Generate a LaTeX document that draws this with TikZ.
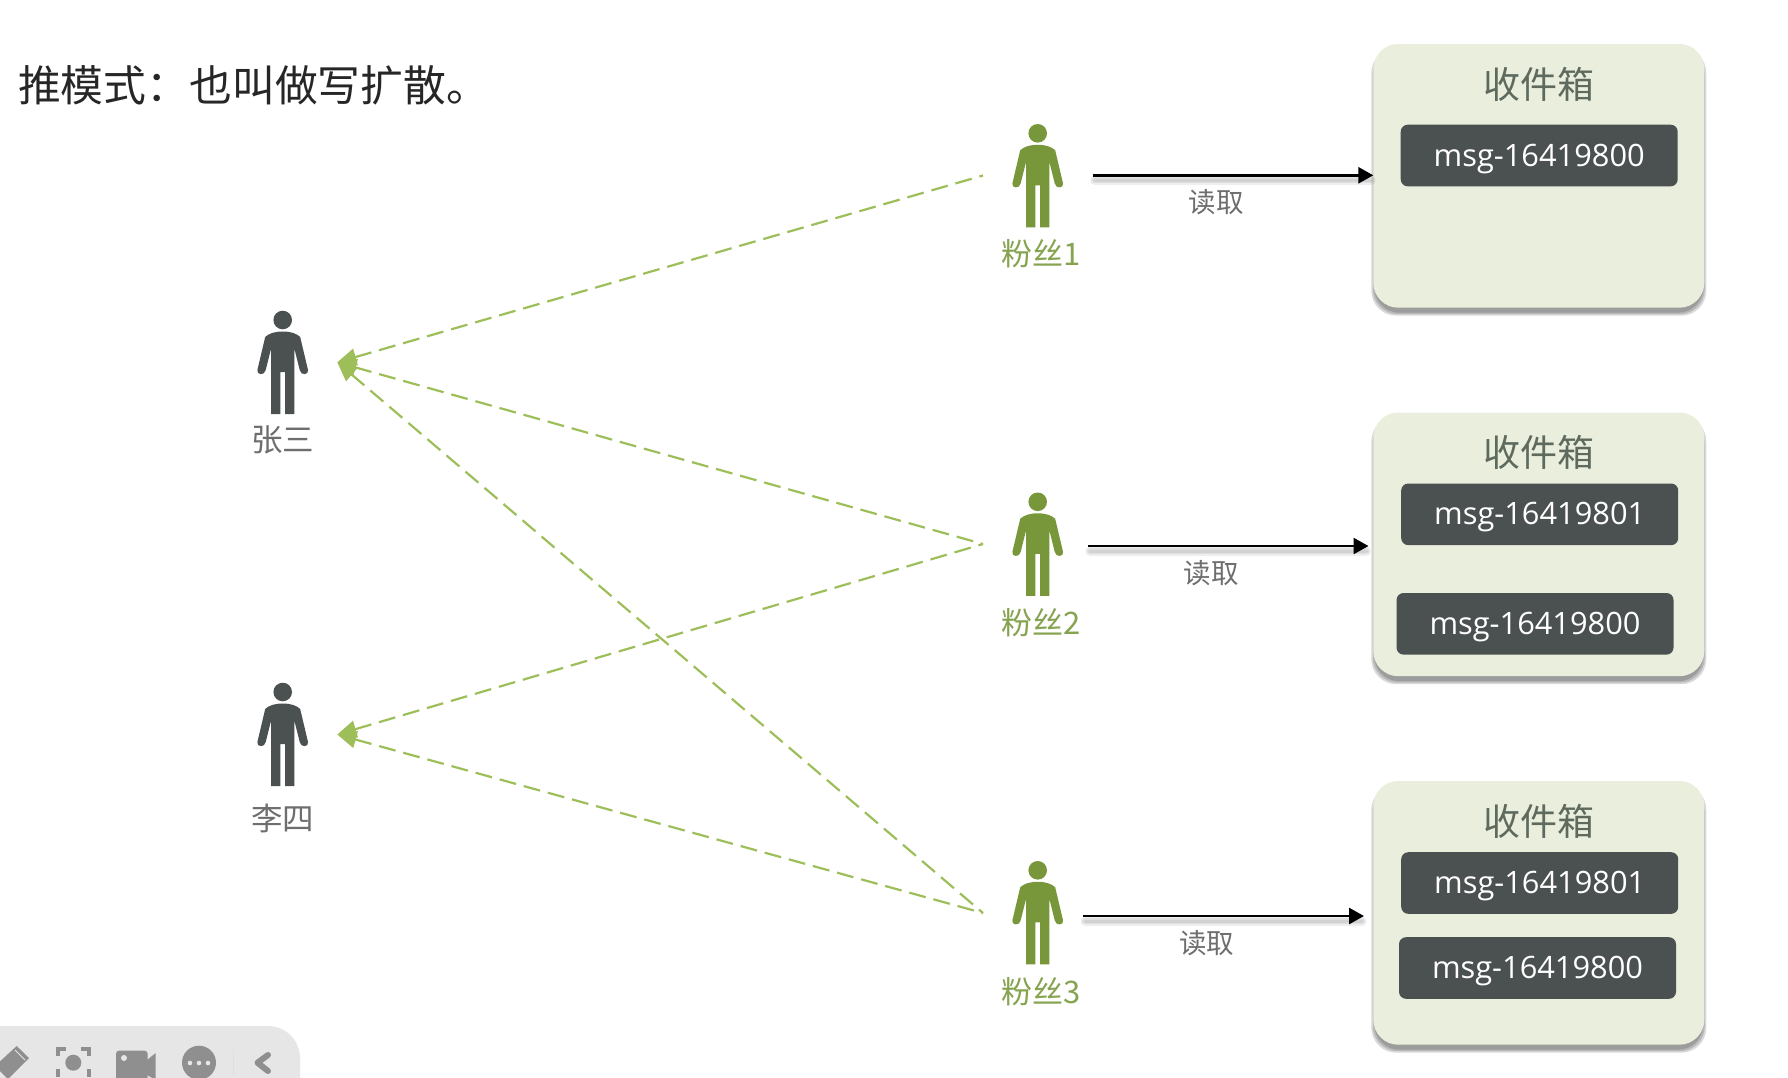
\documentclass[tikz,border=0pt]{standalone}
\usepackage{fontspec}
\setmainfont{Open Sans}
\newfontfamily\cjk{Noto Sans CJK SC}
\usetikzlibrary{arrows.meta,calc}
\definecolor{boxbg}{HTML}{EAEEDD}
\definecolor{slatec}{HTML}{4B5150}
\definecolor{fancol}{HTML}{78963A}
\definecolor{fanlabel}{HTML}{86A350}
\definecolor{dashc}{HTML}{9EBE5A}
\definecolor{greytxt}{HTML}{6E6E6E}
\definecolor{titlegrey}{HTML}{5E6A5E}
\definecolor{barbg}{HTML}{E6E6E6}
\definecolor{baric}{HTML}{8F8F8F}
\tikzset{
  x=1pt,y=-1pt,
  human/.pic={
    \fill[pic actions] (0,0) circle (9.3);
    \fill[pic actions] (0,11.5) .. controls (8,11.5) and (14,13.5) .. (17.5,17)
      -- (25.3,50) .. controls (26.5,55) and (18,56) .. (17,50)
      -- (12,30) -- (11.7,30) -- (11.7,94) -- (2.4,94) -- (2.4,52) -- (-2.4,52)
      -- (-2.4,94) -- (-11.7,94) -- (-11.7,30) -- (-12,30) -- (-17,50)
      .. controls (-18,56) and (-26.5,55) .. (-25.3,50) -- (-17.5,17)
      .. controls (-14,13.5) and (-8,11.5) .. (0,11.5) -- cycle;
  },
  inboxnode/.style={rectangle,rounded corners=25pt,fill=boxbg,minimum width=331pt,minimum height=263.7pt,inner sep=0pt},
  msgnode/.style={rectangle,rounded corners=7pt,fill=slatec,text=white,minimum width=277pt,minimum height=61.6pt,inner sep=0pt,text height=30pt,text depth=9pt,font=\fontsize{30.8}{31}\selectfont},
  inboxtitle/.style={text=titlegrey,inner sep=0pt,font=\cjk\fontsize{37}{37}\selectfont},
  fantext/.style={text=fanlabel,inner sep=0pt,font=\cjk\fontsize{31}{31}\selectfont},
  usertext/.style={text=greytxt,inner sep=0pt,font=\cjk\fontsize{31.5}{32}\selectfont},
  readtext/.style={text=greytxt,inner sep=0pt,font=\cjk\fontsize{27.5}{28}\selectfont},
  titletext/.style={text=black!85,inner sep=0pt,anchor=west,font=\cjk\fontsize{42.8}{43}\selectfont},
  feedline/.style={dashc,line width=2.2pt,dash pattern=on 17pt off 8pt,{Triangle[length=19pt,width=17pt,fill=dashc]}-},
  readline/.style={black,line width=2.6pt,-{Triangle[length=15pt,width=16pt]}},
  readshadow/.style={gray,opacity=0.13,line cap=round},
  boxshadow/.style={fill=black,opacity=0.15},
}
\newcommand{\inboxshadow}[2]{%
  \foreach \k in {-1,0.5,2}{
    \fill[boxshadow,rounded corners=25pt] (1373.3-\k,#1+6-\k) rectangle (1704.3+\k,#2+6+\k);
  }}
\newcommand{\readarrow}[3]{%
  \foreach \w in {3,6,9}{
    \draw[readshadow,line width=\w pt] ($(#1)+(2,5)$) -- ($(#2)+(-2,5)$);
  }
  \draw[readline] (#1) -- (#2);
  \node[readtext] at ($(#1)!0.44!(#2)+(0,27)$) {#3};}
\begin{document}
\begin{tikzpicture}
\fill[white] (0,0) rectangle (1788,1077);
\useasboundingbox (0,0) rectangle (1788,1077);

\node[titletext] (title) at (18,85) {推模式：也叫做写扩散。};

% inbox shadows and inboxes
\inboxshadow{44}{307.7}
\inboxshadow{412.5}{676.2}
\inboxshadow{781}{1044.7}
\node[inboxnode] (box1) at (1538.8,175.85) {};
\node[inboxnode] (box2) at (1538.8,544.35) {};
\node[inboxnode] (box3) at (1538.8,912.85) {};
\node[inboxtitle] (t1) at (1538.8,84) {收件箱};
\node[inboxtitle] (t2) at (1538.8,452.5) {收件箱};
\node[inboxtitle] (t3) at (1538.8,821) {收件箱};
\node[msgnode] (m1) at (1539.2,155.5) {msg-16419800};
\node[msgnode] (m2a) at (1539.7,514.3) {msg-16419801};
\node[msgnode] (m2b) at (1535,623.8) {msg-16419800};
\node[msgnode] (m3a) at (1539.7,883) {msg-16419801};
\node[msgnode] (m3b) at (1537.5,968) {msg-16419800};

% people
\pic[fill=slatec] at (282.7,320) {human};
\pic[fill=slatec] at (282.7,692) {human};
\pic[fill=fancol] at (1037.7,133.3) {human};
\pic[fill=fancol] at (1037.7,501.8) {human};
\pic[fill=fancol] at (1037.7,870.3) {human};
\node[usertext] (zs) at (282.7,440) {张三};
\node[usertext] (ls) at (282.7,818) {李四};
\node[fantext] (f1) at (1041,254) {粉丝1};
\node[fantext] (f2) at (1041,623) {粉丝2};
\node[fantext] (f3) at (1041,991.5) {粉丝3};

% connector ends
\coordinate (zsin) at (337.3,362.3);
\coordinate (lsin) at (337.3,734.5);
\coordinate (f1out) at (983,175.5);
\coordinate (f2out) at (983,544);
\coordinate (f3out) at (983,913);
\coordinate (f1r) at (1092.7,175.3);
\coordinate (f2r) at (1087.8,546);
\coordinate (f3r) at (1083,916);
\coordinate (f1t) at (1373.3,175.3);
\coordinate (f2t) at (1368.5,546);
\coordinate (f3t) at (1364,916);

\draw[feedline] (zsin) -- (f1out);
\draw[feedline] (zsin) -- (f2out);
\draw[feedline] (zsin) -- (f3out);
\draw[feedline] (lsin) -- (f2out);
\draw[feedline] (lsin) -- (f3out);

\readarrow{f1r}{f1t}{读取}
\readarrow{f2r}{f2t}{读取}
\readarrow{f3r}{f3t}{读取}

% toolbar
\fill[barbg,rounded corners=32pt] (-60,1026) rectangle (300,1140);
\fill[baric] (16.7,1046) -- (29,1058) -- (8,1079) -- (-5,1066) -- cycle;
\draw[barbg,line width=1pt] (15,1050) -- (25,1060);
\begin{scope}[baric,line width=4pt]
  \draw (58,1056) -- (58,1048.5) -- (65.5,1048.5);
  \draw (81,1048.5) -- (88.5,1048.5) -- (88.5,1056);
  \draw (58,1069) -- (58,1077);
  \draw (88.5,1069) -- (88.5,1077);
\end{scope}
\fill[baric] (73.3,1062.7) circle (8);
\fill[baric,rounded corners=3pt] (116,1050.7) rectangle (147.7,1085);
\fill[baric] (147,1060) -- (155.7,1053) -- (155.7,1080) -- (147,1075) -- cycle;
\fill[barbg] (124,1058) circle (3);
\fill[baric] (199,1062.7) circle (17);
\foreach \dx in {190,199,208}{\fill[barbg] (\dx,1063) circle (2.3);}
\draw[gray!25,line width=0.8pt] (233.3,1050) -- (233.3,1075);
\draw[baric,line width=6pt,line cap=round,line join=round] (268,1055) -- (257.5,1062.7) -- (268,1071);
\end{tikzpicture}
\end{document}
